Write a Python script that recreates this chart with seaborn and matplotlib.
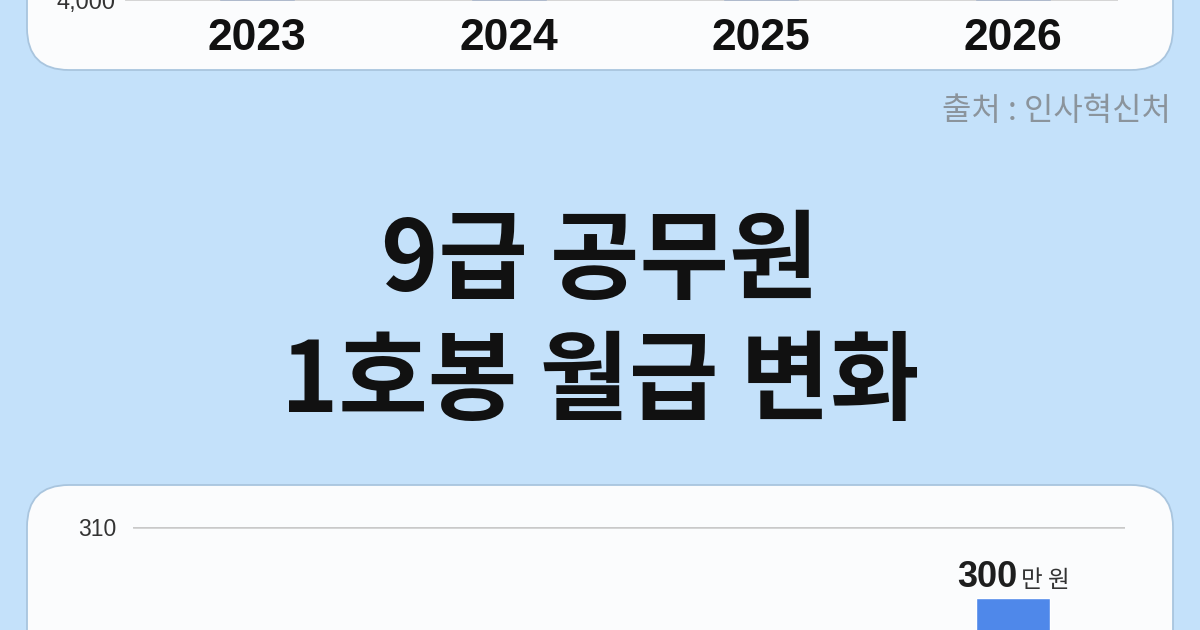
import pandas as pd
import seaborn as sns
import matplotlib.pyplot as plt
from matplotlib.patches import FancyBboxPatch
from matplotlib.transforms import IdentityTransform

# Data
years = ['2023', '2024', '2025', '2026']
# upper chart (only its baseline and year labels are in view)
upper_values = [4850, 5010, 5180, 5390]
upper_ticks = [4000, 5000, 6000]
# 9급 1호봉 monthly pay (만 원)
pay_values = [254, 268, 286, 300]
pay_ticks = [250, 280, 310]
pay_label_unit = '만 원'

title = '9급 공무원\n1호봉 월급 변화'
source = '출처 : 인사혁신처'

bg = '#c4e1fa'
panel = '#fbfcfd'
bar_color = '#4f88ea'
grid_color = '#c9c9c9'

sns.set_theme(style='white')
plt.rcParams['font.family'] = ['Liberation Sans', 'Noto Sans CJK KR', 'DejaVu Sans']
KR = ['Noto Sans CJK KR', 'DejaVu Sans']

W, H = 1200, 630
fig = plt.figure(figsize=(12, 6.3), dpi=100, facecolor=bg)

# white rounded panels (pixel coords, origin bottom-left)
for x0, y0, x1, y1 in [(27, H - 70, 1173, H + 300), (27, -300, 1173, H - 485)]:
    p = FancyBboxPatch((x0, y0), x1 - x0, y1 - y0,
                       boxstyle='round,pad=0,rounding_size=42',
                       transform=IdentityTransform(), facecolor=panel,
                       edgecolor='#a9c5de', linewidth=1.3, zorder=-1)
    fig.add_artist(p)

spacing = 252
c0 = 257

# upper chart, baseline sits at the top edge of the picture
l, r = 125, 1118
ax1 = fig.add_axes([l / W, 1 - 1 / H, (r - l) / W, 0.6])
df1 = pd.DataFrame({'year': years, 'value': upper_values})
sns.barplot(data=df1, x='year', y='value', color=bar_color, width=0.3, ax=ax1)
ax1.set_xlim(-(c0 - l) / spacing, 3 + (r - (c0 + 3 * spacing)) / spacing)
ax1.set_ylim(4000, 6000)
ax1.set_yticks(upper_ticks)
ax1.set_yticklabels([f'{v:,}' for v in upper_ticks])
ax1.yaxis.grid(True, color=grid_color, linewidth=1.8, zorder=5)
ax1.set_axisbelow(False)
ax1.set_facecolor('none')
ax1.set_xlabel('')
ax1.set_ylabel('')
sns.despine(ax=ax1, left=True, bottom=True)
ax1.tick_params(axis='x', length=0, pad=12, labelsize=32, labelcolor='#111')
ax1.tick_params(axis='y', length=0, pad=7, labelsize=17, labelcolor='#333')
for t in ax1.get_xticklabels():
    t.set_fontweight('bold')

# lower chart
l, r = 133, 1125
top_px = 527
px_per_unit = 7.1
ymin, ymax = 200, 310
h = (ymax - ymin) * px_per_unit
ax2 = fig.add_axes([l / W, 1 - (top_px + h) / H, (r - l) / W, h / H])
df2 = pd.DataFrame({'year': years, 'pay': pay_values})
sns.barplot(data=df2, x='year', y='pay', color=bar_color, width=0.297,
            saturation=1, ax=ax2)
ax2.set_xlim(-(c0 - l) / spacing, 3 + (r - (c0 + 3 * spacing)) / spacing)
ax2.set_ylim(ymin, ymax)
ax2.set_yticks(pay_ticks)
ax2.yaxis.grid(True, color=grid_color, linewidth=1.8)
ax2.set_axisbelow(True)
ax2.set_facecolor('none')
ax2.set_xlabel('')
ax2.set_ylabel('')
sns.despine(ax=ax2, left=True, bottom=True)
ax2.tick_params(axis='x', length=0, labelbottom=False)
ax2.tick_params(axis='y', length=0, pad=12, labelsize=16.5, labelcolor='#333')

for i, v in enumerate(pay_values):
    ax2.annotate(f'{v}', xy=(i, v), xytext=(3, 8), textcoords='offset points',
                 ha='right', va='baseline', fontsize=26, fontweight='bold',
                 color='#1e1e1e')
    ax2.annotate(pay_label_unit, xy=(i, v), xytext=(6, 8), textcoords='offset points',
                 ha='left', va='baseline', fontsize=17, color='#333',
                 family=KR)

# title and source
fig.text(0.5, 1 - 323 / H, title, ha='center', va='center', fontsize=70,
         fontweight='black', color='#111', family=KR, linespacing=1.27)
fig.text(1171 / W, 1 - 111 / H, source, ha='right', va='center', fontsize=23,
         color='#8b949c', family=KR)

fig.savefig('out.png', dpi=100, facecolor=bg)
